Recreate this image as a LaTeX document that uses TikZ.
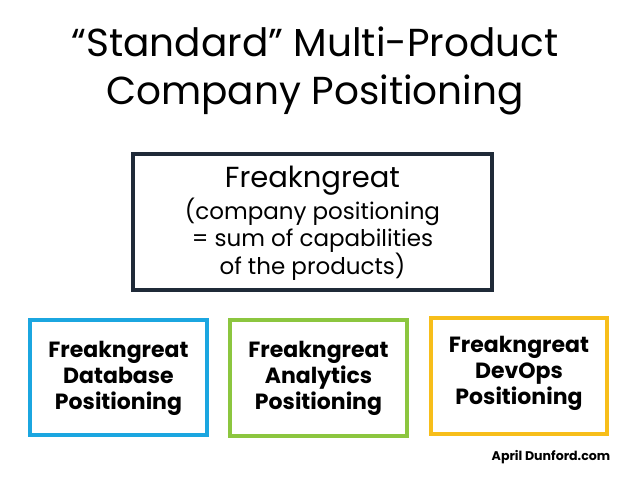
\documentclass[tikz,border=0pt]{standalone}
\usepackage{fontspec}
\setmainfont{Poppins}
\definecolor{navy}{HTML}{1F2A38}
\definecolor{bblue}{HTML}{1BA6E0}
\definecolor{bgreen}{HTML}{8CC63F}
\definecolor{byellow}{HTML}{F7BE1A}
\begin{document}
\begin{tikzpicture}[x=1pt,y=-1pt,
  box/.style={draw,line width=4.5pt},
  sub/.style={font=\bfseries\fontsize{22}{26}\selectfont,align=center,text=black}]
\useasboundingbox (0,0) rectangle (630,496);
\node[font=\fontsize{39}{48}\selectfont,align=center] (title) at (315,71) {“Standard” Multi-Product\\Company Positioning};
\draw[box,navy] (133,154) rectangle (492,290);
\node[font=\fontsize{29}{32}\selectfont] (mainhead) at (312.5,181) {Freakngreat};
\node[font=\fontsize{23}{27}\selectfont,align=center] (main) at (312.5,239) {(company positioning\\= sum of capabilities\\of the products)};
\draw[box,bblue] (30,320) rectangle (207,435);
\node[sub] (db) at (118.5,378) {Freakngreat\\Database\\Positioning};
\draw[box,bgreen] (230,320) rectangle (407,436);
\node[sub] (an) at (318.5,378) {Freakngreat\\Analytics\\Positioning};
\draw[box,byellow] (431,318) rectangle (607,434);
\node[sub] (dv) at (519,373) {Freakngreat\\DevOps\\Positioning};
\node[font=\bfseries\fontsize{12.6}{14}\selectfont] (credit) at (551,457) {April Dunford.com};
\end{tikzpicture}
\end{document}
